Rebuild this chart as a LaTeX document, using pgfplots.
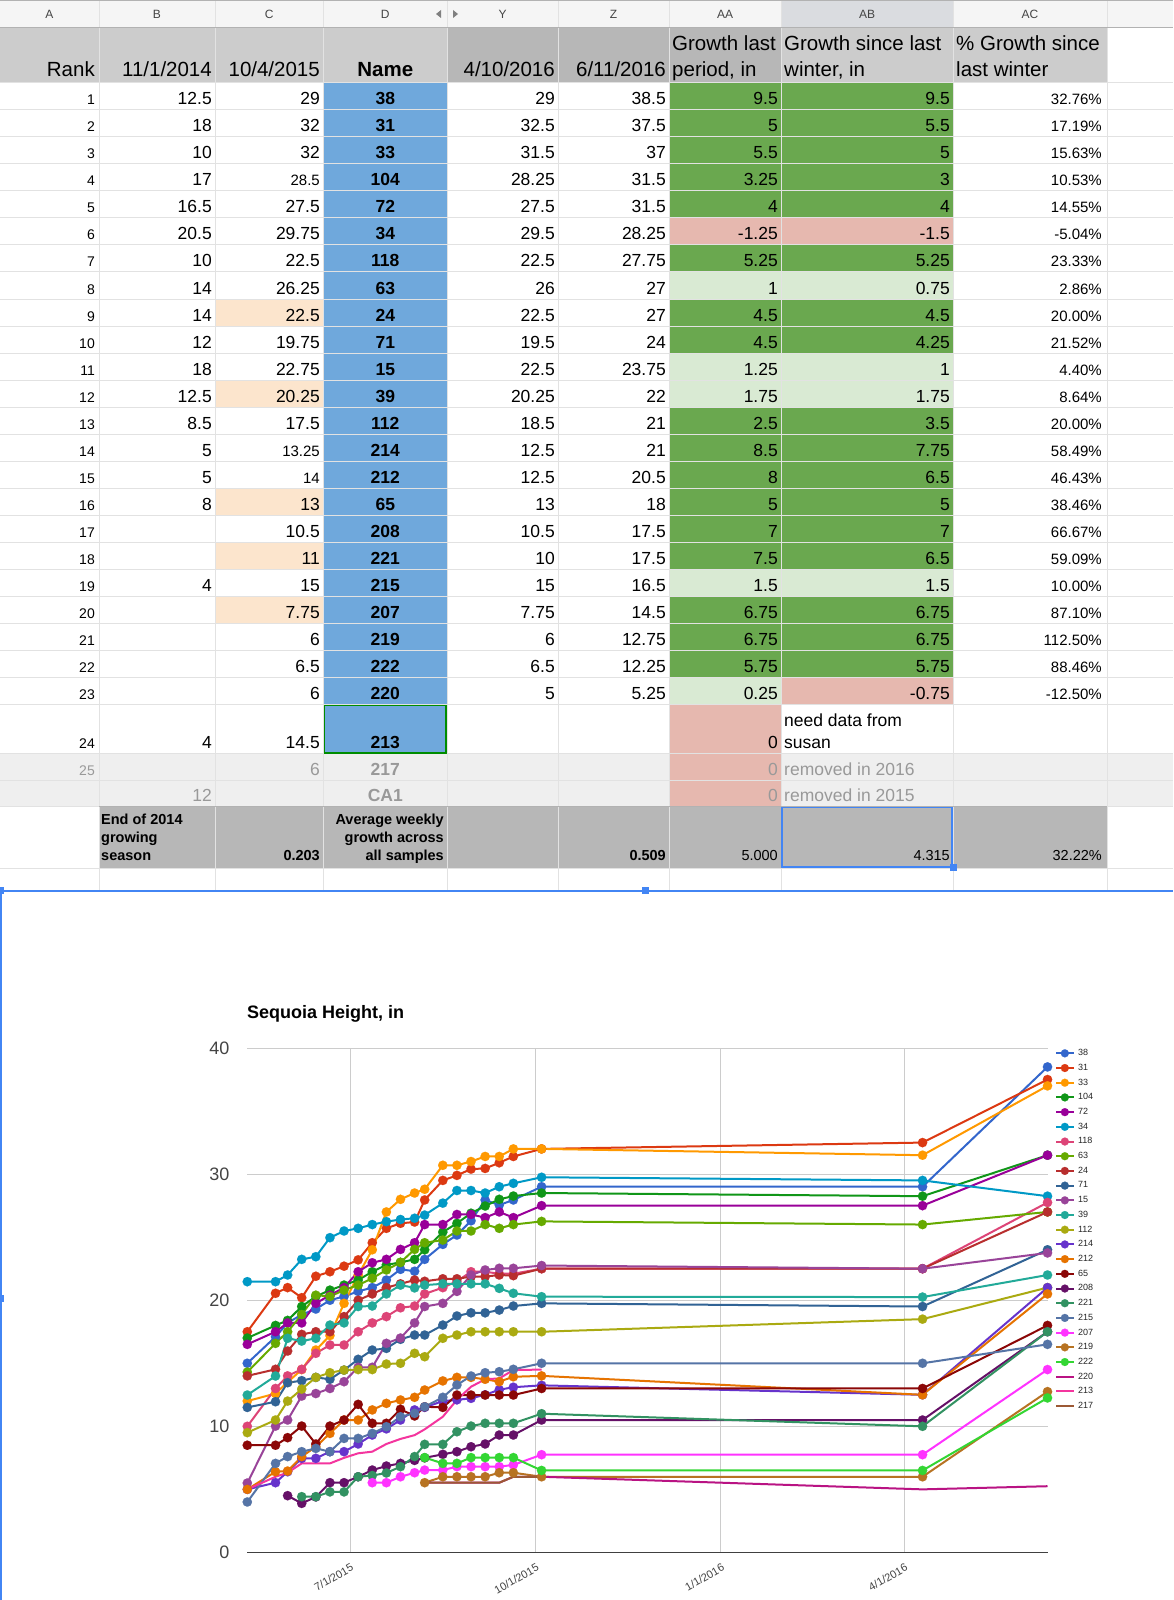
\documentclass[border=0pt]{standalone}
\usepackage{fontspec}
\setmainfont{Liberation Sans}
\usepackage{pgfplots}
\pgfplotsset{compat=1.18}
\definecolor{letterbg}{HTML}{F5F5F5}
\definecolor{lettersel}{HTML}{DADCE0}
\definecolor{hdr}{HTML}{CCCCCC}
\definecolor{hdrdark}{HTML}{B7B7B7}
\definecolor{dblue}{HTML}{6FA8DC}
\definecolor{dg}{HTML}{6AA84F}
\definecolor{lg}{HTML}{D9EAD3}
\definecolor{pk}{HTML}{E6B8AF}
\definecolor{peach}{HTML}{FCE5CD}
\definecolor{rowgray}{HTML}{EFEFEF}
\definecolor{sumgray}{HTML}{B7B7B7}
\definecolor{gridc}{HTML}{E2E2E2}
\definecolor{selblue}{HTML}{4285F4}
\definecolor{txtgray}{HTML}{444444}
\definecolor{ltxt}{HTML}{999999}
\definecolor{cgrid}{HTML}{CCCCCC}
\colorlet{cCn}{white}\colorlet{cCs}{white}\colorlet{cCp}{peach}
\definecolor{s38}{HTML}{3366CC}\definecolor{s31}{HTML}{DC3912}\definecolor{s33}{HTML}{FF9900}
\definecolor{s104}{HTML}{109618}\definecolor{s72}{HTML}{990099}\definecolor{s34}{HTML}{0099C6}
\definecolor{s118}{HTML}{DD4477}\definecolor{s63}{HTML}{66AA00}\definecolor{s24}{HTML}{B82E2E}
\definecolor{s71}{HTML}{316395}\definecolor{s15}{HTML}{994499}\definecolor{s39}{HTML}{22AA99}
\definecolor{s112}{HTML}{AAAA11}\definecolor{s214}{HTML}{6633CC}\definecolor{s212}{HTML}{E67300}
\definecolor{s65}{HTML}{8B0707}\definecolor{s208}{HTML}{651067}\definecolor{s221}{HTML}{329262}
\definecolor{s215}{HTML}{5574A6}\definecolor{s207}{HTML}{FF33FF}\definecolor{s219}{HTML}{B77322}
\definecolor{s222}{HTML}{33D633}\definecolor{s220}{HTML}{B91383}\definecolor{s213}{HTML}{F4359E}
\definecolor{s217}{HTML}{9C5935}
\tikzset{
 num/.style={anchor=base east, inner sep=0pt, font=\fontsize{17.5}{20}\selectfont},
 lft/.style={anchor=base west, inner sep=0pt, font=\fontsize{17.5}{20}\selectfont},
 nm/.style={anchor=base, inner sep=0pt, font=\bfseries\fontsize{17.5}{20}\selectfont},
 rk/.style={anchor=base east, inner sep=0pt, font=\fontsize{14}{16}\selectfont},
 pc/.style={anchor=base east, inner sep=0pt, font=\fontsize{15}{16}\selectfont},
 hd/.style={inner sep=0pt, font=\fontsize{20.5}{22}\selectfont},
 sm/.style={inner sep=0pt, font=\bfseries\fontsize{14.5}{16}\selectfont},
 fCn/.style={font=\fontsize{17.5}{20}\selectfont},
 fCp/.style={font=\fontsize{17.5}{20}\selectfont},
 fCs/.style={font=\fontsize{15}{17}\selectfont},
}
\pgfplotsset{
 ser/.style={color=#1, line width=2pt, line join=round, mark=*, mark size=4.7pt, mark options={line width=0.1pt, solid}},
 serl/.style={color=#1, line width=2pt, line join=round, mark=none},
}
\begin{document}
\begin{tikzpicture}
\useasboundingbox (0,0) rectangle (1173pt,-1600pt);
\begin{scope}[x=1pt,y=-1pt]
% column letters row
\fill[letterbg] (0,0) rectangle (1173,28);
\fill[lettersel] (781,0) rectangle (953,28);
\foreach \x/\t in {49.5/A,157/B,269.25/C,385.25/D,502.5/Y,613.5/Z,725/AA,867/AB,1030/AC}
  \node[anchor=base, inner sep=0pt, font=\fontsize{12}{12}\selectfont, text=txtgray] at (\x,18.5) {\t};
\fill[gray] (436,14) -- (441,10) -- (441,18) -- cycle;
\fill[gray] (458,14) -- (453,10) -- (453,18) -- cycle;
% title row
\fill[hdr] (0,28) rectangle (447,82.6);
\fill[hdrdark] (447,28) rectangle (781,82.6);
\fill[hdr] (781,28) rectangle (1107,82.6);
\node[hd, anchor=base east] at (95,76.5) {Rank};
\node[hd, anchor=base east] at (212,76.5) {11/1/2014};
\node[hd, anchor=base east] at (320,76.5) {10/4/2015};
\node[hd, anchor=base, font=\bfseries\fontsize{20.5}{22}\selectfont] at (385.25,76.5) {Name};
\node[hd, anchor=base east] at (555,76.5) {4/10/2016};
\node[hd, anchor=base east] at (666,76.5) {6/11/2016};
\node[hd, anchor=base west] at (672,51) {Growth last};
\node[hd, anchor=base west] at (672,76.5) {period, in};
\node[hd, anchor=base west] at (784,51) {Growth since last};
\node[hd, anchor=base west] at (784,76.5) {winter, in};
\node[hd, anchor=base west] at (956,51) {\% Growth since};
\node[hd, anchor=base west] at (956,76.5) {last winter};
% D blue column rows 1-24
\fill[dblue] (323.5,82.6) rectangle (447,753.8);
% rows 25-26 background
\fill[rowgray] (0,753.8) rectangle (1173,806.8);
\fill[pk] (669,704.8) rectangle (781,806.8);
% data rows
\foreach \rr/\vb/\vc/\cst/\vd/\vy/\vz/\va/\fa/\vab/\fab/\vac in {
1/12.5/29/n/38/29/38.5/9.5/dg/9.5/dg/32.76,
2/18/32/n/31/32.5/37.5/5/dg/5.5/dg/17.19,
3/10/32/n/33/31.5/37/5.5/dg/5/dg/15.63,
4/17/28.5/s/104/28.25/31.5/3.25/dg/3/dg/10.53,
5/16.5/27.5/n/72/27.5/31.5/4/dg/4/dg/14.55,
6/20.5/29.75/n/34/29.5/28.25/-1.25/pk/-1.5/pk/-5.04,
7/10/22.5/n/118/22.5/27.75/5.25/dg/5.25/dg/23.33,
8/14/26.25/n/63/26/27/1/lg/0.75/lg/2.86,
9/14/22.5/p/24/22.5/27/4.5/dg/4.5/dg/20.00,
10/12/19.75/n/71/19.5/24/4.5/dg/4.25/dg/21.52,
11/18/22.75/n/15/22.5/23.75/1.25/lg/1/lg/4.40,
12/12.5/20.25/p/39/20.25/22/1.75/lg/1.75/lg/8.64,
13/8.5/17.5/n/112/18.5/21/2.5/dg/3.5/dg/20.00,
14/5/13.25/s/214/12.5/21/8.5/dg/7.75/dg/58.49,
15/5/14/s/212/12.5/20.5/8/dg/6.5/dg/46.43,
16/8/13/p/65/13/18/5/dg/5/dg/38.46,
17//10.5/n/208/10.5/17.5/7/dg/7/dg/66.67,
18//11/p/221/10/17.5/7.5/dg/6.5/dg/59.09,
19/4/15/n/215/15/16.5/1.5/lg/1.5/lg/10.00,
20//7.75/p/207/7.75/14.5/6.75/dg/6.75/dg/87.10,
21//6/n/219/6/12.75/6.75/dg/6.75/dg/112.50,
22//6.5/n/222/6.5/12.25/5.75/dg/5.75/dg/88.46,
23//6/n/220/5/5.25/0.25/lg/-0.75/pk/-12.50}{
  \pgfmathsetmacro\tp{82.6+(\rr-1)*27.05}
  \pgfmathsetmacro\bt{\tp+27.05}
  \pgfmathsetmacro\bl{\bt-5}
  \fill[\fa] (669,\tp) rectangle (781,\bt);
  \fill[\fab] (781,\tp) rectangle (953,\bt);
  \fill[cC\cst] (215,\tp) rectangle (323.5,\bt);
  \node[rk] at (95,\bl) {\rr};
  \node[num] at (212,\bl) {\vb};
  \node[num, fC\cst] at (320,\bl) {\vc};
  \node[nm] at (385.25,\bl) {\vd};
  \node[num] at (555,\bl) {\vy};
  \node[num] at (666,\bl) {\vz};
  \node[num] at (778,\bl) {\va};
  \node[num] at (950,\bl) {\vab};
  \node[pc] at (1102,\bl) {\vac\%};
}
% row 24
\node[rk] at (95,748.5) {24};
\node[num] at (212,748.5) {4};
\node[num] at (320,748.5) {14.5};
\node[nm] at (385.25,748.5) {213};
\node[num] at (778,748.5) {0};
\node[lft] at (784,726) {need data from};
\node[lft] at (784,748.5) {susan};
% row 25
\node[rk, text=ltxt] at (95,775.3) {25};
\node[num, text=ltxt] at (320,775.3) {6};
\node[nm, text=ltxt] at (385.25,775.3) {217};
\node[num, text=ltxt] at (778,775.3) {0};
\node[lft, text=ltxt] at (784,775.3) {removed in 2016};
% row 26
\node[num, text=ltxt] at (212,801.8) {12};
\node[nm, text=ltxt] at (385.25,801.8) {CA1};
\node[num, text=ltxt] at (778,801.8) {0};
\node[lft, text=ltxt] at (784,801.8) {removed in 2015};
% summary row
\fill[sumgray] (99,806.8) rectangle (1107,868);
\node[sm, anchor=base west] at (101,824) {End of 2014};
\node[sm, anchor=base west] at (101,842.4) {growing};
\node[sm, anchor=base west] at (101,860.8) {season};
\node[sm, anchor=base east] at (320,860.8) {0.203};
\node[sm, anchor=base east] at (444,824) {Average weekly};
\node[sm, anchor=base east] at (444,842.4) {growth across};
\node[sm, anchor=base east] at (444,860.8) {all samples};
\node[sm, anchor=base east] at (666,860.8) {0.509};
\node[sm, anchor=base east, font=\fontsize{14.5}{16}\selectfont] at (778,860.8) {5.000};
\node[sm, anchor=base east, font=\fontsize{14.5}{16}\selectfont] at (950,860.8) {4.315};
\node[sm, anchor=base east, font=\fontsize{14.5}{16}\selectfont] at (1102,860.8) {32.22\%};
% gridlines
\foreach \yy in {82.6,109.65,136.7,163.75,190.8,217.85,244.9,271.95,299,326.05,353.1,380.15,407.2,434.25,461.3,488.35,515.4,542.45,569.5,596.55,623.6,650.65,677.7,704.8,753.8,780.3,806.8,868}
  \draw[gridc, line width=1pt] (0,\yy) -- (1173,\yy);
\foreach \xx in {99,215,323.5,447,558,669,781,953,1107}
  \draw[gridc, line width=1pt] (\xx,0) -- (\xx,890);
\draw[black!30, line width=1pt] (0,28) -- (1173,28);
\draw[black!30, line width=1pt] (0,0.5) -- (1173,0.5);
\draw[black!30, line width=0.8pt] (99,806.8) -- (1107,806.8);
% selection borders
\draw[green!55!black, line width=1.5pt] (324.3,705.6) rectangle (446.2,753);
\draw[selblue, line width=1.5pt] (781.8,807.6) rectangle (952.2,867.2);
\fill[selblue] (949.5,864) rectangle (956.5,871);
% chart background
\fill[white] (0,890.5) rectangle (1173,1600);
\draw[selblue, line width=2pt] (0,890.5) -- (1173,890.5);
\draw[selblue, line width=2pt] (1,890.5) -- (1,1600);
\fill[selblue] (-3,887) rectangle (4,894);
\fill[selblue] (642,887) rectangle (649,894);
\fill[selblue] (-3,1295) rectangle (4,1302);
\node[anchor=base west, inner sep=0pt, font=\bfseries\fontsize{18}{18}\selectfont] at (247,1018) {Sequoia Height, in};
\end{scope}
\begin{axis}[
  at={(247.3pt,-1552.4pt)}, anchor=south west,
  scale only axis, width=800.2pt, height=504.4pt,
  xmin=130, xmax=527, ymin=0, ymax=40,
  axis line style={draw=none},
  tick style={draw=none},
  grid=major, grid style={draw=cgrid, line width=1pt},
  xtick={181,273,365,456},
  xticklabels={7/1/2015,10/1/2015,1/1/2016,4/1/2016},
  ytick={0,10,20,30,40},
  extra y ticks={0}, extra y tick labels={},
  extra y tick style={grid style={draw=black!75, line width=1.4pt}},
  /pgf/number format/assume math mode=true,
  yticklabel style={font=\fontsize{18}{18}\selectfont, text=txtgray, anchor=east, inner sep=0pt, xshift=-17.8pt},
  xticklabel style={font=\fontsize{11}{11}\selectfont, text=txtgray, rotate=30, anchor=north east, inner sep=0pt, yshift=-9pt, xshift=-5pt},
  clip=false,
  legend style={at={(1.00937,1.00406)}, anchor=north west, draw=none, fill=none, inner sep=0pt, outer sep=0pt, row sep=0pt, column sep=3.3pt, font=\fontsize{9}{9}\selectfont, text=black!85, nodes={inner sep=0pt, minimum height=14.7pt}},
  legend cell align=left,
  legend image code/.code={\draw[mark repeat=2, mark phase=2, #1, mark size=4pt] plot coordinates {(0pt,0pt) (8.85pt,0pt) (17.7pt,0pt)};},
]
\addplot[ser=s38] coordinates {(130,15.0) (144,17.1) (150,18.2) (157,18.86) (164,19.3) (171,20.0) (178,20.3) (185,20.7) (192,21.0) (199,21.6) (206,22.45) (213,22.3) (218,23.24) (227,24.43) (234,25.17) (241,26.3) (248,27.95) (255,27.55) (262,27.95) (276,29) (465,29) (527,38.5)};
\addlegendentry{38}
\addplot[ser=s31] coordinates {(130,17.5) (144,20.55) (150,21.0) (157,20.2) (164,21.9) (171,22.26) (178,22.7) (185,23.2) (192,24.56) (199,25.7) (206,26.1) (213,26.2) (218,27.95) (227,29.5) (234,29.9) (241,30.4) (248,30.45) (255,30.9) (262,31.4) (276,32) (465,32.5) (527,37.5)};
\addlegendentry{31}
\addplot[ser=s33] coordinates {(130,12.0) (144,12.6) (150,13.5) (157,14.5) (164,16.05) (171,17.2) (178,19.75) (185,22.0) (192,24.0) (199,27.0) (206,28.0) (213,28.5) (218,28.8) (227,30.7) (234,30.7) (241,31.0) (248,31.4) (255,31.4) (262,32.0) (276,32.0) (465,31.5) (527,37)};
\addlegendentry{33}
\addplot[ser=s104] coordinates {(130,17.0) (144,18.0) (150,18.4) (157,19.5) (164,20.3) (171,20.8) (178,21.2) (185,21.6) (192,22.26) (199,22.8) (206,23.0) (213,23.24) (218,24.0) (227,25.4) (234,26.1) (241,26.9) (248,27.47) (255,28.0) (262,28.26) (276,28.5) (465,28.25) (527,31.5)};
\addlegendentry{104}
\addplot[ser=s72] coordinates {(130,16.5) (144,17.5) (150,18.2) (157,18.2) (164,19.75) (171,20.4) (178,21.0) (185,22.26) (192,22.97) (199,23.24) (206,24.03) (213,24.56) (218,26.0) (227,26.0) (234,26.8) (241,26.8) (248,26.55) (255,27.0) (262,26.55) (276,27.5) (465,27.5) (527,31.5)};
\addlegendentry{72}
\addplot[ser=s34] coordinates {(130,21.47) (144,21.47) (150,22.0) (157,23.24) (164,23.45) (171,24.96) (178,25.49) (185,25.7) (192,26.0) (199,26.23) (206,26.4) (213,26.5) (218,26.75) (227,27.7) (234,28.7) (241,28.7) (248,28.5) (255,29.0) (262,29.27) (276,29.75) (465,29.5) (527,28.25)};
\addlegendentry{34}
\addplot[ser=s118] coordinates {(130,10.0) (144,13.0) (150,14.0) (157,14.52) (164,15.79) (171,16.45) (178,16.45) (185,17.5) (192,18.2) (199,18.7) (206,19.4) (213,19.54) (218,20.5) (227,21.0) (234,21.5) (241,22.26) (248,22.26) (255,22.1) (262,22.1) (276,22.5) (465,22.5) (527,27.75)};
\addlegendentry{118}
\addplot[ser=s63] coordinates {(130,14.3) (144,16.58) (150,17.5) (157,18.86) (164,20.4) (171,20.3) (178,20.8) (185,21.2) (192,21.74) (199,22.4) (206,23.0) (213,24.03) (218,24.56) (227,24.77) (234,25.49) (241,25.49) (248,26.0) (255,25.7) (262,26.0) (276,26.25) (465,26.0) (527,27.0)};
\addlegendentry{63}
\addplot[ser=s24] coordinates {(130,14.0) (144,14.52) (150,15.97) (157,17.29) (164,17.5) (171,17.5) (178,18.7) (185,20.0) (192,20.5) (199,21.0) (206,21.3) (213,21.6) (218,21.5) (227,21.7) (234,21.7) (241,21.87) (248,21.87) (255,22.0) (262,21.95) (276,22.5) (465,22.5) (527,27.0)};
\addlegendentry{24}
\addplot[ser=s71] coordinates {(130,11.5) (144,11.95) (150,13.46) (157,13.62) (164,13.88) (171,13.73) (178,14.46) (185,15.31) (192,16.05) (199,16.18) (206,16.9) (213,17.24) (218,17.24) (227,18.03) (234,18.75) (241,19.0) (248,19.0) (255,19.22) (262,19.54) (276,19.75) (465,19.5) (527,24.0)};
\addlegendentry{71}
\addplot[ser=s15] coordinates {(130,5.5) (144,10.02) (150,10.5) (157,12.4) (164,12.6) (171,13.0) (178,13.54) (185,14.68) (192,14.68) (199,16.58) (206,17.0) (213,18.2) (218,19.5) (227,19.75) (234,20.7) (241,22.0) (248,22.4) (255,22.53) (262,22.53) (276,22.75) (465,22.5) (527,23.75)};
\addlegendentry{15}
\addplot[ser=s39] coordinates {(130,12.48) (144,13.99) (150,16.98) (157,16.76) (164,16.98) (171,18.03) (178,18.2) (185,19.5) (192,19.54) (199,20.5) (206,21.2) (213,20.98) (218,21.2) (227,21.3) (234,21.3) (241,21.3) (248,21.3) (255,20.94) (262,20.55) (276,20.28) (465,20.25) (527,22.0)};
\addlegendentry{39}
\addplot[ser=s112] coordinates {(130,9.5) (144,10.5) (150,12.0) (157,12.95) (164,13.88) (171,14.25) (178,14.46) (185,14.5) (192,14.5) (199,14.94) (206,15.0) (213,15.79) (218,15.52) (227,16.98) (234,17.24) (241,17.5) (248,17.5) (255,17.5) (262,17.5) (276,17.5) (465,18.5) (527,21.0)};
\addlegendentry{112}
\addplot[ser=s214] coordinates {(130,5.0) (144,5.53) (150,6.4) (157,7.46) (164,7.46) (171,7.99) (178,7.99) (185,8.6) (192,9.31) (199,9.8) (206,10.5) (213,11.3) (218,11.5) (227,12.0) (234,12.1) (241,12.22) (248,12.5) (255,12.9) (262,13.1) (276,13.25) (465,12.5) (527,21.0)};
\addlegendentry{214}
\addplot[ser=s212] coordinates {(130,5.0) (144,6.4) (150,6.45) (157,7.6) (164,8.38) (171,9.44) (178,10.5) (185,10.5) (192,11.3) (199,11.82) (206,12.09) (213,12.3) (218,12.88) (227,13.6) (234,13.88) (241,13.88) (248,13.73) (255,13.54) (262,13.93) (276,14.0) (465,12.5) (527,20.5)};
\addlegendentry{212}
\addplot[ser=s65] coordinates {(130,8.5) (144,8.5) (150,9.1) (157,10.02) (164,8.6) (171,10.02) (178,10.5) (185,11.74) (192,10.24) (199,10.24) (206,11.35) (213,10.82) (218,11.55) (227,11.5) (234,12.48) (241,12.48) (248,12.48) (255,12.48) (262,12.48) (276,13.0) (465,13.0) (527,18.0)};
\addlegendentry{65}
\addplot[ser=s208] coordinates {(150,4.5) (157,3.89) (164,4.4) (171,5.53) (178,5.53) (185,6.0) (192,6.53) (199,6.85) (206,7.06) (213,7.3) (218,7.5) (227,7.78) (234,7.99) (241,8.38) (248,8.6) (255,9.31) (262,9.31) (276,10.5) (465,10.5) (527,17.5)};
\addlegendentry{208}
\addplot[ser=s221] coordinates {(157,4.42) (164,4.42) (171,4.8) (178,4.8) (185,6.0) (192,6.1) (199,6.3) (206,6.8) (213,7.6) (218,8.57) (227,8.57) (234,9.57) (241,10.02) (248,10.24) (255,10.24) (262,10.24) (276,11.0) (465,10.0) (527,17.5)};
\addlegendentry{221}
\addplot[ser=s215] coordinates {(130,4.0) (144,7.06) (150,7.6) (157,7.99) (164,8.25) (171,7.99) (178,9.04) (185,9.04) (192,9.44) (199,9.97) (206,10.76) (213,11.03) (218,11.55) (227,12.3) (234,13.28) (241,13.99) (248,14.25) (255,14.33) (262,14.52) (276,15.0) (465,15.0) (527,16.5)};
\addlegendentry{215}
\addplot[ser=s207] coordinates {(192,5.53) (199,5.53) (206,6.0) (213,6.32) (218,6.53) (227,6.53) (234,6.8) (241,6.8) (248,6.8) (255,6.8) (262,6.94) (276,7.75) (465,7.75) (527,14.5)};
\addlegendentry{207}
\addplot[ser=s219] coordinates {(218,5.53) (227,6.0) (234,6.0) (241,6.0) (248,6.0) (255,6.32) (262,6.32) (276,6.0) (465,6.0) (527,12.75)};
\addlegendentry{219}
\addplot[ser=s222] coordinates {(218,7.52) (227,7.06) (234,7.06) (241,7.52) (248,7.52) (255,7.52) (262,7.52) (276,6.5) (465,6.5) (527,12.25)};
\addlegendentry{222}
\addplot[serl=s220] coordinates {(218,5.53) (255,5.53) (262,6.0) (276,6.0) (465,5.0) (527,5.25)};
\addlegendentry{220}
\addplot[serl=s213] coordinates {(130,5.0) (144,6.0) (150,6.32) (157,7.06) (164,7.06) (171,7.06) (178,7.5) (185,7.86) (192,7.99) (199,8.6) (206,9.0) (213,9.3) (218,9.76) (227,10.76) (234,12.1) (241,13.14) (248,13.73) (255,13.8) (262,14.46) (276,14.5)};
\addlegendentry{213}
\addplot[serl=s217] coordinates {(218,5.53) (255,5.53) (262,6.0) (276,6.0)};
\addlegendentry{217}
\end{axis}
\end{tikzpicture}
\end{document}
